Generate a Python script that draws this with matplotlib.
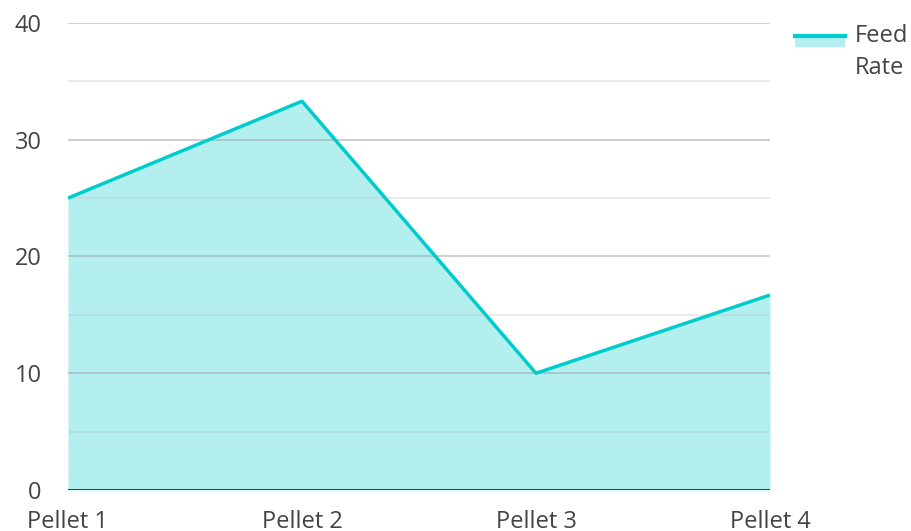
import numpy as np
import matplotlib.pyplot as plt
from matplotlib.patches import Rectangle
from matplotlib.lines import Line2D

categories = ['Pellet 1', 'Pellet 2', 'Pellet 3', 'Pellet 4']
feed_rate = [25.0, 33.3, 10.0, 16.7]
y_major = [0, 10, 20, 30, 40]
y_minor = [5, 15, 25, 35]

line_color = '#00cccc'
fill_color = '#b2efee'
text_color = '#444444'

plt.rcParams['font.family'] = ['Open Sans', 'DejaVu Sans']

fig = plt.figure(figsize=(9.11, 5.31), dpi=100)
ax = fig.add_axes([0.0746, 0.0772, 0.7706, 0.8795])

x = np.arange(len(categories))
ax.fill_between(x, 0, feed_rate, color=fill_color, zorder=1, linewidth=0)
ax.plot(x, feed_rate, color=line_color, linewidth=2.5, zorder=4, solid_capstyle='butt')

# gridlines sit above the fill
for v in y_major[1:]:
    ax.axhline(v, color='#9a9a9a', linewidth=1.2, alpha=0.55, zorder=2)
for v in y_minor:
    ax.axhline(v, color='#bdbdbd', linewidth=1.2, alpha=0.35, zorder=2)
ax.axhline(0, color='#2e2e2e', linewidth=2.0, zorder=5)

ax.set_xlim(0, 3)
ax.set_ylim(0, 40)
ax.set_xticks(x)
ax.set_xticklabels(categories)
ax.set_yticks(y_major)
ax.tick_params(axis='both', length=0, labelsize=17, labelcolor=text_color)
ax.tick_params(axis='y', pad=19)
ax.tick_params(axis='x', pad=14.5)
for s in ax.spines.values():
    s.set_visible(False)

# legend, built by hand
fig.patches.append(Rectangle((795 / 911, 1 - 47 / 531), 50 / 911, 12 / 531,
                             transform=fig.transFigure, color=fill_color, linewidth=0))
fig.lines.append(Line2D([795 / 911, 845 / 911], [1 - 36 / 531, 1 - 36 / 531],
                        transform=fig.transFigure, color=line_color, linewidth=3))
fig.text(855 / 911, 1 - 36 / 531, 'Feed', fontsize=17, color=text_color, va='center')
fig.text(855 / 911, 1 - 68 / 531, 'Rate', fontsize=17, color=text_color, va='center')

fig.savefig('out.png', dpi=100)
